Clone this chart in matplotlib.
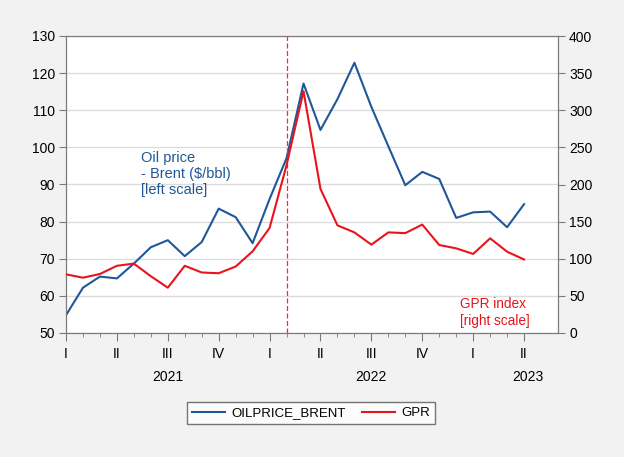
import numpy as np
import matplotlib.pyplot as plt
from matplotlib.transforms import blended_transform_factory

plt.rcParams["font.family"] = ["Liberation Sans", "DejaVu Sans"]

# monthly data, Jan 2021 .. Apr 2023
months = ["2021-01", "2021-02", "2021-03", "2021-04", "2021-05", "2021-06",
          "2021-07", "2021-08", "2021-09", "2021-10", "2021-11", "2021-12",
          "2022-01", "2022-02", "2022-03", "2022-04", "2022-05", "2022-06",
          "2022-07", "2022-08", "2022-09", "2022-10", "2022-11", "2022-12",
          "2023-01", "2023-02", "2023-03", "2023-04"]
oil_brent = [54.8, 62.2, 65.2, 64.7, 68.7, 73.1, 75.0, 70.7, 74.5, 83.5,
             81.2, 74.2, 86.1, 97.1, 117.2, 104.7, 113.0, 122.8, 110.9,
             100.3, 89.8, 93.4, 91.5, 81.0, 82.5, 82.7, 78.5, 84.7]
gpr = [79, 74.5, 79.5, 90.5, 93.5, 76.5, 61, 90.5, 81.5, 80.5, 89.5, 110,
       141.5, 226, 325.7, 194, 145, 135.5, 119, 135.5, 134.5, 146, 118.5,
       114, 106.5, 127.5, 109.5, 99]
quarter_labels = ["I", "II", "III", "IV"]
years = ["2021", "2022", "2023"]
event_month = "2022-02"

x = np.arange(len(months))
blue = "#1f5799"
red = "#e8141b"
spine_c = "#7a7a7a"

fig = plt.figure(figsize=(6.24, 4.57), dpi=100, facecolor="#f2f2f2")
ax = fig.add_axes([66 / 624, 1 - 333 / 457, (558 - 66) / 624, (333 - 36) / 457])
ax.set_facecolor("white")
ax2 = ax.twinx()

l1, = ax.plot(x, oil_brent, color=blue, lw=1.5, label="OILPRICE_BRENT", zorder=3)
l2, = ax2.plot(x, gpr, color=red, lw=1.5, label="GPR", zorder=3)
ax2.axvline(months.index(event_month), color="#ff2a2a", lw=0.9, ls=(0, (4, 2)), zorder=1)

ax.set_xlim(0, 29)
ax.set_ylim(50, 130)
ax.set_yticks(np.arange(50, 131, 10))
ax2.set_ylim(0, 400)
ax2.set_yticks(np.arange(0, 401, 50))
ax.grid(axis="y", color="#dcdcdc", lw=1.0)
ax.set_axisbelow(True)

# quarters as major ticks, months as minor ticks
qpos = x[::3]
ax.set_xticks(qpos)
ax.set_xticklabels([quarter_labels[(int(m[5:7]) - 1) // 3] for m in months[::3]])
ax.set_xticks(x, minor=True)
ax.tick_params(axis="x", which="major", length=6, color=spine_c, labelsize=10, pad=4)
ax.tick_params(axis="x", which="minor", length=3, color=spine_c)
ax.tick_params(axis="y", length=5, color=spine_c, labelsize=10, pad=3)
ax2.tick_params(axis="y", length=5, color=spine_c, labelsize=10, pad=3)

for a in (ax, ax2):
    for s in a.spines.values():
        s.set_color(spine_c)

trans = blended_transform_factory(ax.transData, ax.transAxes)
for yr, xp in zip(years, [6.0, 18.0, 27.2]):
    ax.text(xp, -0.148, yr, transform=trans, ha="center", va="center", fontsize=10)

fig.text(141 / 624, 1 - 174 / 457, "Oil price\n- Brent ($/bbl)\n[left scale]",
         color=blue, fontsize=10.5, ha="left", va="center", linespacing=1.2)
fig.text(460 / 624, 1 - 312.5 / 457, "GPR index\n[right scale]", color=red,
         fontsize=9.8, ha="left", va="center", linespacing=1.3)

leg = fig.legend(handles=[l1, l2], loc="center", bbox_to_anchor=(311 / 624, 1 - 413 / 457),
                 ncol=2, fontsize=9.5, frameon=True, fancybox=False, handlelength=2.5,
                 columnspacing=1.2, borderpad=0.35, handletextpad=0.5)
leg.get_frame().set_edgecolor("#555555")
leg.get_frame().set_linewidth(1.0)
leg.get_frame().set_facecolor("white")

fig.savefig("out.png", dpi=100, facecolor=fig.get_facecolor())
